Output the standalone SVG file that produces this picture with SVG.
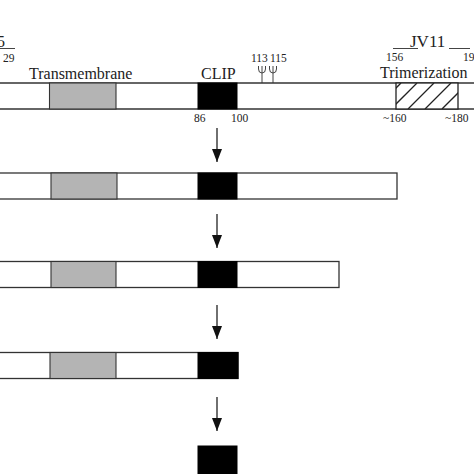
<svg xmlns="http://www.w3.org/2000/svg" width="474" height="474" viewBox="0 0 474 474">
<style>
.bar{fill:#fff;stroke:#333;stroke-width:1.3}
.tm{fill:#b4b4b4;stroke:#333;stroke-width:1.1}
.clip{fill:#000;stroke:#000;stroke-width:1}
.t{font-family:"Liberation Serif",serif;fill:#222}
.big{font-size:16px}
.sm{font-size:11.5px}
.ln{stroke:#444;stroke-width:1;fill:none}
.arr{stroke:#222;stroke-width:1.3}
</style>
<defs>
<marker id="ah" markerWidth="13" markerHeight="10" refX="13" refY="5" orient="auto" markerUnits="userSpaceOnUse" viewBox="0 0 13 10">
<path d="M0,0 L13,5 L0,10 Z" fill="#111"/>
</marker>
<clipPath id="hc"><rect x="396" y="83" width="62" height="26"/></clipPath>
</defs>

<g id="labels">
<text class="t big" x="-3" y="47">5</text>
<line class="ln" x1="0" y1="48.5" x2="15" y2="48.5"/>
<text class="t sm" x="3" y="62">29</text>
<text class="t big" x="29" y="79">Transmembrane</text>
<text class="t big" x="201" y="79">CLIP</text>
<text class="t sm" x="251" y="62">113</text>
<text class="t sm" x="270" y="62">115</text>
<line class="ln" x1="393" y1="48.5" x2="418" y2="48.5"/>
<text class="t" style="font-size:17px" x="410" y="47">JV11</text>
<line class="ln" x1="449" y1="48.5" x2="470" y2="48.5"/>
<text class="t sm" x="386" y="61">156</text>
<text class="t sm" x="463" y="61">190</text>
<text class="t big" x="380" y="78">Trimerization</text>
<text class="t sm" x="194" y="122">86</text>
<text class="t sm" x="231" y="122">100</text>
<text class="t sm" x="383" y="122">~160</text>
<text class="t sm" x="445" y="122">~180</text>
</g>

<g id="glyco">
<path class="ln" d="M262,83 V66 M258.5,66 V69 Q258.5,73 262,73 Q265.5,73 265.5,69 V66"/>
<path class="ln" d="M273,83 V66 M269.5,66 V69 Q269.5,73 273,73 Q276.5,73 276.5,69 V66"/>
</g>

<g id="full">
<rect x="-2" y="83" width="480" height="26" fill="#fff"/>
<line x1="-2" y1="83" x2="478" y2="83" stroke="#333" stroke-width="1.3"/>
<line x1="-2" y1="109" x2="478" y2="109" stroke="#333" stroke-width="1.3"/>
<rect class="tm" x="49.5" y="83" width="66.5" height="26"/>
<rect class="clip" x="198" y="83" width="39" height="26"/>
<rect x="396" y="83" width="62" height="26" fill="#fff" stroke="#222" stroke-width="1.3"/>
<g clip-path="url(#hc)" stroke="#222" stroke-width="1.3">
<line x1="375" y1="109" x2="401" y2="83"/>
<line x1="391" y1="109" x2="417" y2="83"/>
<line x1="408" y1="109" x2="434" y2="83"/>
<line x1="425" y1="109" x2="451" y2="83"/>
<line x1="442" y1="109" x2="468" y2="83"/>
</g>
</g>

<g id="form2">
<rect class="bar" x="-2" y="173" width="399" height="26"/>
<rect class="tm" x="51" y="173" width="66" height="26"/>
<rect class="clip" x="198" y="173" width="39" height="26"/>
</g>

<g id="form3">
<rect class="bar" x="-2" y="261.5" width="341" height="26"/>
<rect class="tm" x="51" y="261.5" width="65" height="26"/>
<rect class="clip" x="198" y="261.5" width="39" height="26"/>
</g>

<g id="form4">
<rect class="bar" x="-2" y="352.5" width="240" height="26"/>
<rect class="tm" x="50" y="352.5" width="66" height="26"/>
<rect class="clip" x="198" y="352.5" width="40" height="26"/>
</g>

<g id="form5">
<rect class="clip" x="198" y="446" width="39" height="30"/>
</g>

<g id="connectors">
<line class="arr" x1="217" y1="128" x2="217" y2="162" marker-end="url(#ah)"/>
<line class="arr" x1="217" y1="214" x2="217" y2="248" marker-end="url(#ah)"/>
<line class="arr" x1="217" y1="305" x2="217" y2="339" marker-end="url(#ah)"/>
<line class="arr" x1="217" y1="397" x2="217" y2="431" marker-end="url(#ah)"/>
</g>
</svg>
